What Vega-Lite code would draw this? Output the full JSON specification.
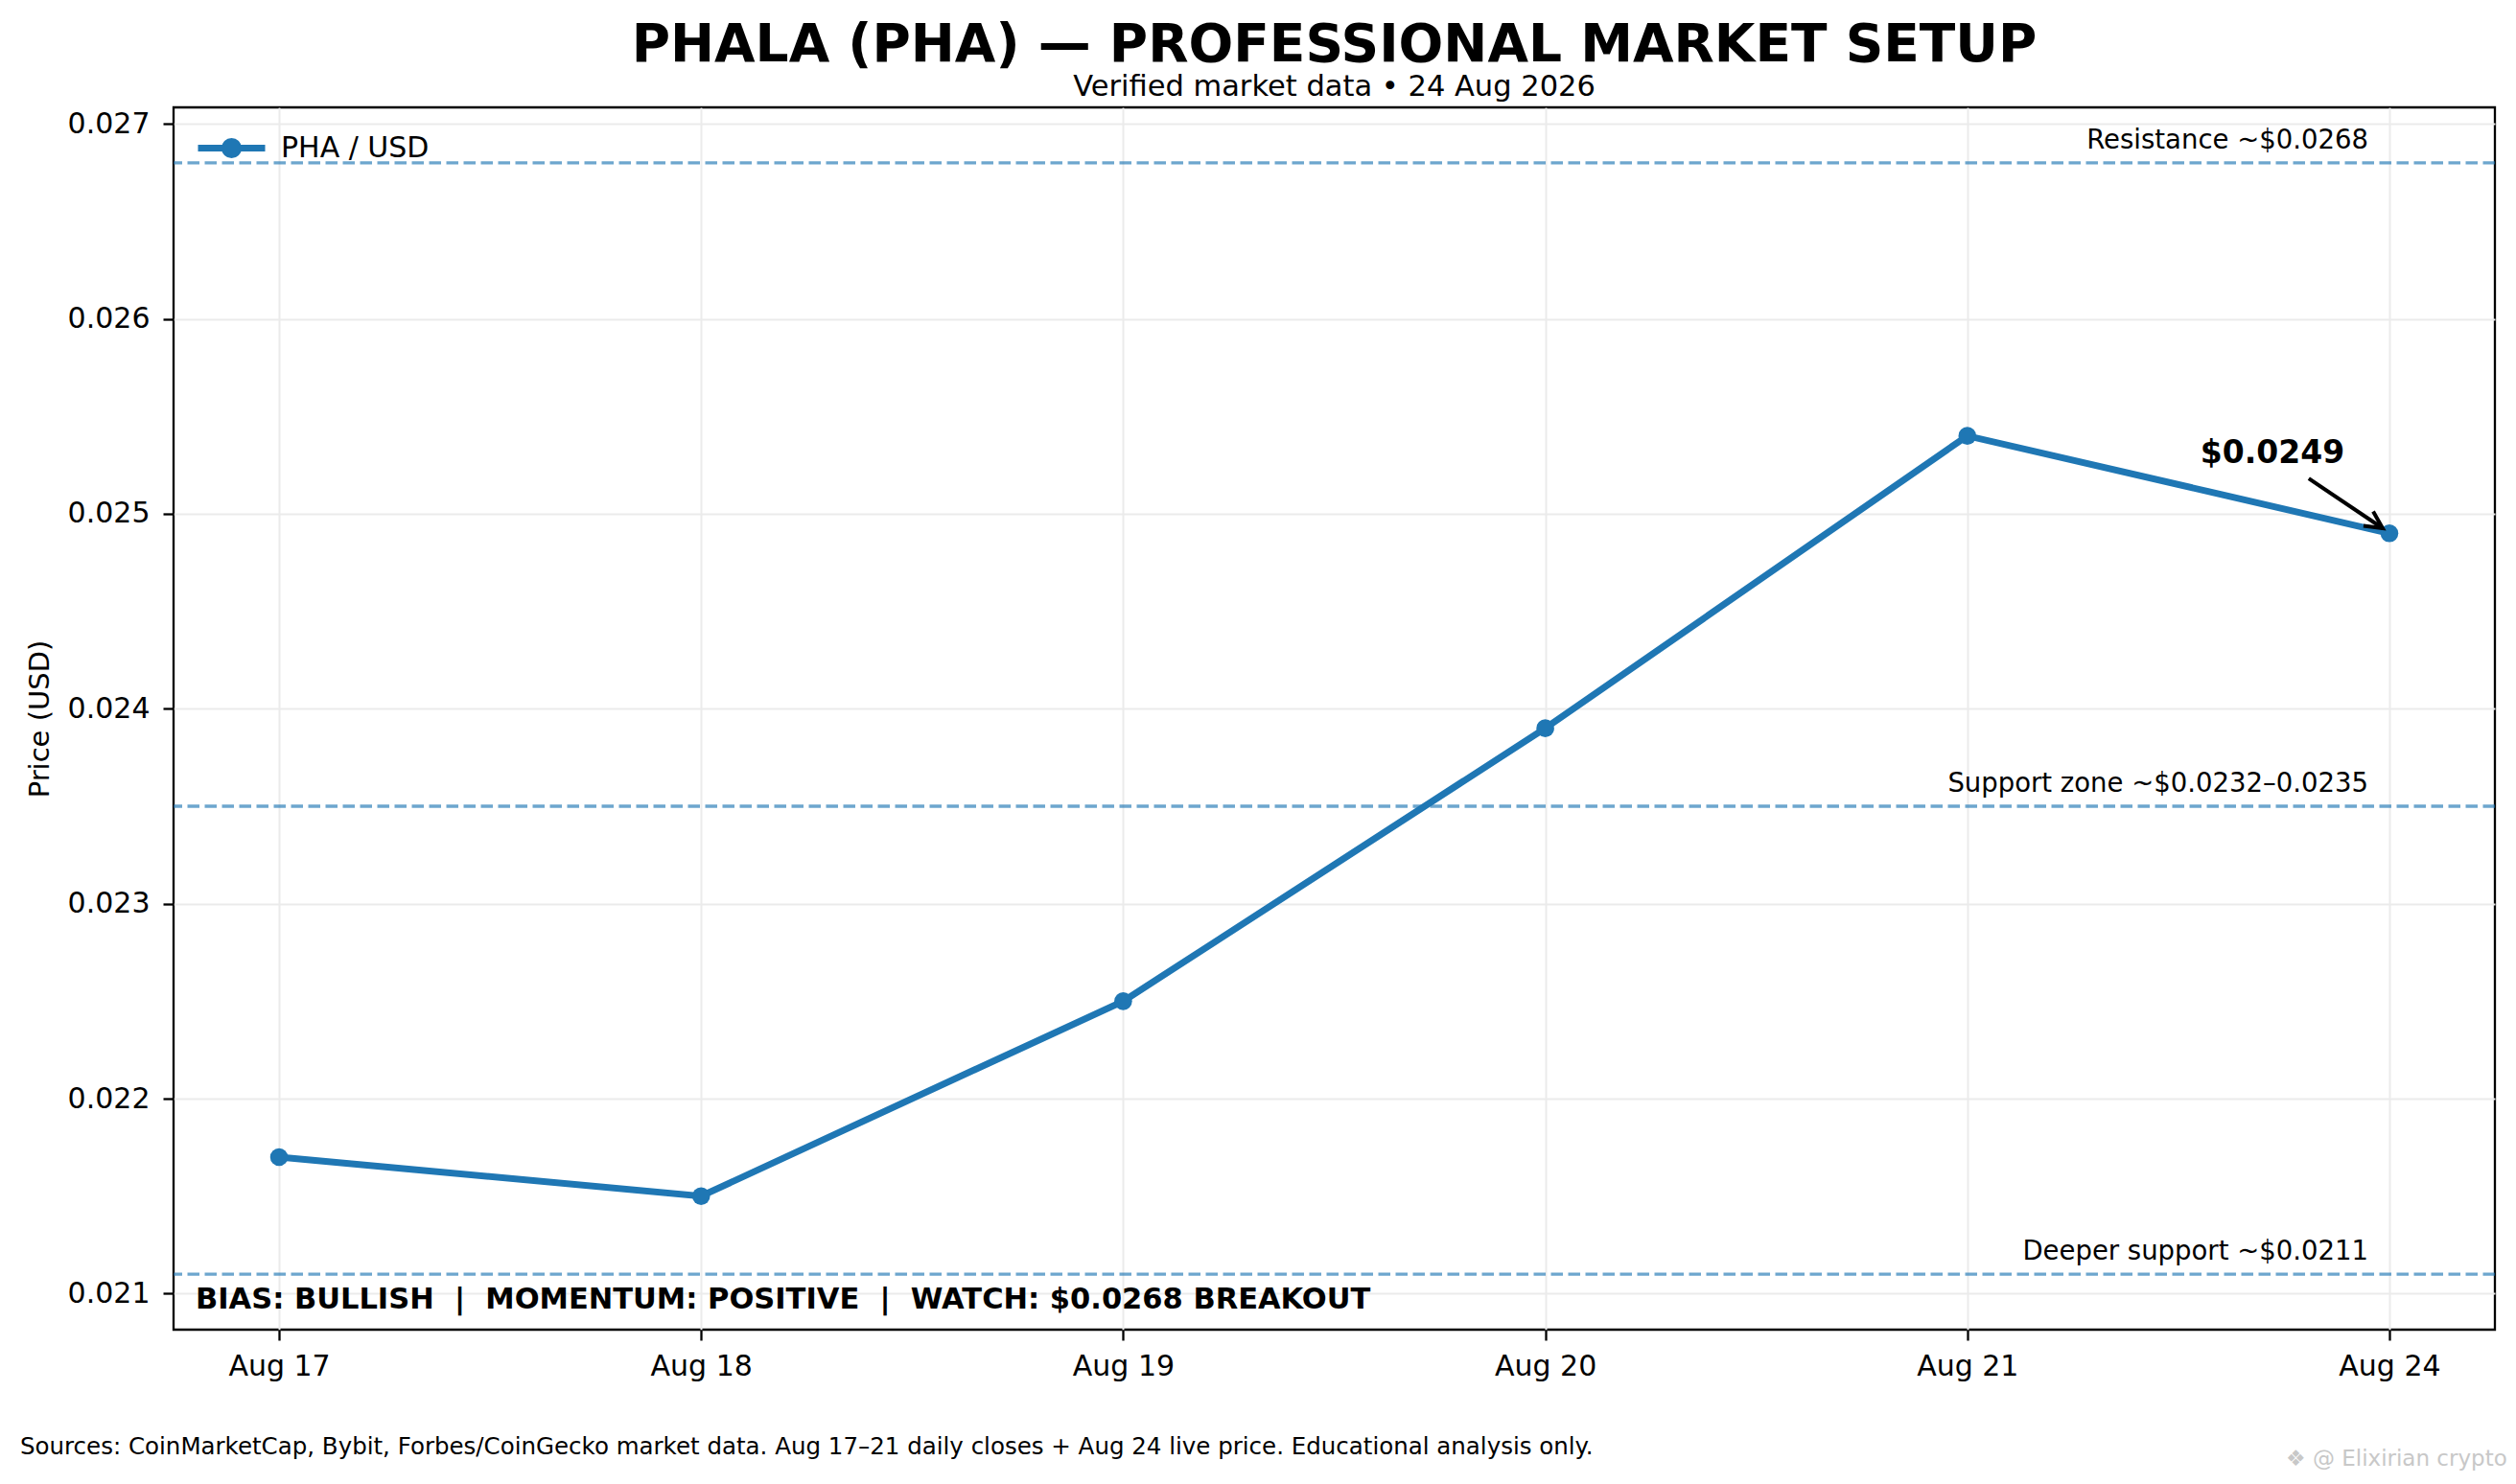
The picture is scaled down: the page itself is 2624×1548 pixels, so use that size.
{
  "$schema": "https://vega.github.io/schema/vega-lite/v6.json",
  "autosize": {"type": "none"},
  "width": 2421,
  "height": 1275,
  "padding": {"left": 181, "top": 112, "right": 22, "bottom": 161},
  "background": "white",
  "title": {
    "text": "PHALA (PHA) — PROFESSIONAL MARKET SETUP",
    "subtitle": "Verified market data • 24 Aug 2026",
    "anchor": "middle",
    "fontSize": 55,
    "fontWeight": "bold",
    "color": "black",
    "subtitleFontSize": 30.5,
    "subtitleColor": "black",
    "subtitlePadding": 0,
    "offset": 5
  },
  "datasets": {
    "prices": [
      {"i": 0, "date": "Aug 17", "price": 0.0217, "series": "PHA / USD"},
      {"i": 1, "date": "Aug 18", "price": 0.0215, "series": "PHA / USD"},
      {"i": 2, "date": "Aug 19", "price": 0.0225, "series": "PHA / USD"},
      {"i": 3, "date": "Aug 20", "price": 0.0239, "series": "PHA / USD"},
      {"i": 4, "date": "Aug 21", "price": 0.0254, "series": "PHA / USD"},
      {"i": 5, "date": "Aug 24", "price": 0.0249, "series": "PHA / USD"}
    ],
    "levels": [
      {"level": 0.0268, "label": "Resistance ~$0.0268"},
      {"level": 0.0235, "label": "Support zone ~$0.0232–0.0235"},
      {"level": 0.0211, "label": "Deeper support ~$0.0211"}
    ],
    "one": [{}]
  },
  "layer": [
    {
      "data": {"name": "levels"},
      "mark": {"type": "rule", "color": "#1f77b4", "opacity": 0.65, "strokeWidth": 3.3, "strokeDash": [12.5, 5.5]},
      "encoding": {
        "y": {"field": "level", "type": "quantitative"}
      }
    },
    {
      "data": {"name": "levels"},
      "mark": {"type": "text", "align": "right", "baseline": "alphabetic", "dy": -15, "fontSize": 27.5, "color": "black"},
      "encoding": {
        "x": {"datum": 4.95, "type": "quantitative"},
        "y": {"field": "level", "type": "quantitative"},
        "text": {"field": "label"}
      }
    },
    {
      "data": {"name": "prices"},
      "mark": {"type": "line", "strokeWidth": 7, "point": {"filled": true, "size": 346, "opacity": 1}},
      "encoding": {
        "x": {
          "field": "i",
          "type": "quantitative",
          "scale": {"domain": [-0.25, 5.25], "nice": false, "zero": false},
          "axis": {
            "title": null,
            "values": [0, 1, 2, 3, 4, 5],
            "labelExpr": "['Aug 17', 'Aug 18', 'Aug 19', 'Aug 20', 'Aug 21', 'Aug 24'][datum.value]",
            "labelPadding": 12
          }
        },
        "y": {
          "field": "price",
          "type": "quantitative",
          "scale": {"domain": [0.020815, 0.027085], "nice": false, "zero": false},
          "axis": {
            "title": "Price (USD)",
            "values": [0.021, 0.022, 0.023, 0.024, 0.025, 0.026, 0.027],
            "format": ".3f",
            "labelPadding": 14,
            "titlePadding": 14
          }
        },
        "color": {
          "field": "series",
          "type": "nominal",
          "scale": {"range": ["#1f77b4"]},
          "legend": {
            "title": null,
            "orient": "none",
            "legendX": 22,
            "legendY": 4,
            "padding": 0,
            "symbolType": "M-1,0L1,0M-0.2,0A0.2,0.2,0,1,0,0.2,0A0.2,0.2,0,1,0,-0.2,0Z",
            "symbolSize": 4900,
            "symbolStrokeWidth": 7,
            "symbolFillColor": "#1f77b4",
            "symbolStrokeColor": "#1f77b4",
            "symbolOpacity": 1,
            "labelFontSize": 30,
            "labelOffset": 13,
            "labelColor": "black"
          }
        }
      }
    },
    {
      "data": {"name": "one"},
      "mark": {"type": "rule", "color": "black", "strokeWidth": 4},
      "encoding": {
        "x": {"datum": 4.809, "type": "quantitative"},
        "y": {"datum": 0.025181, "type": "quantitative"},
        "x2": {"datum": 4.984},
        "y2": {"datum": 0.024926}
      }
    },
    {
      "data": {"name": "one"},
      "mark": {"type": "point", "shape": "M-1,-0.5L0,0L-1,0.5", "size": 1296, "angle": 34, "filled": false, "stroke": "black", "strokeWidth": 4, "opacity": 1},
      "encoding": {
        "x": {"datum": 4.984, "type": "quantitative"},
        "y": {"datum": 0.024926, "type": "quantitative"}
      }
    },
    {
      "data": {"name": "one"},
      "mark": {"type": "text", "text": "$0.0249", "align": "center", "baseline": "alphabetic", "fontSize": 33, "fontWeight": "bold", "color": "black"},
      "encoding": {
        "x": {"datum": 4.723, "type": "quantitative"},
        "y": {"datum": 0.02526, "type": "quantitative"}
      }
    },
    {
      "data": {"name": "one"},
      "mark": {"type": "text", "text": "BIAS: BULLISH\u00a0\u00a0|\u00a0\u00a0MOMENTUM: POSITIVE\u00a0\u00a0|\u00a0\u00a0WATCH: $0.0268 BREAKOUT", "align": "left", "baseline": "alphabetic", "fontSize": 30.5, "fontWeight": "bold", "color": "black"},
      "encoding": {
        "x": {"datum": -0.1978, "type": "quantitative"},
        "y": {"datum": 0.020922, "type": "quantitative"}
      }
    },
    {
      "data": {"name": "one"},
      "mark": {"type": "text", "text": "Sources: CoinMarketCap, Bybit, Forbes/CoinGecko market data. Aug 17–21 daily closes + Aug 24 live price. Educational analysis only.", "align": "left", "baseline": "alphabetic", "fontSize": 24.5, "color": "black", "clip": false},
      "encoding": {
        "x": {"datum": -0.6135, "type": "quantitative"},
        "y": {"datum": 0.020176, "type": "quantitative"}
      }
    },
    {
      "data": {"name": "one"},
      "mark": {"type": "text", "text": "❖ @ Elixirian crypto", "align": "right", "baseline": "alphabetic", "fontSize": 23, "color": "#c8c8c8", "clip": false},
      "encoding": {
        "x": {"datum": 5.279, "type": "quantitative"},
        "y": {"datum": 0.020117, "type": "quantitative"}
      }
    }
  ],
  "config": {
    "font": "DejaVu Sans",
    "view": {"stroke": "black", "strokeWidth": 2.3},
    "axis": {
      "domain": false,
      "grid": true,
      "gridColor": "#ebebeb",
      "gridWidth": 2,
      "tickColor": "black",
      "tickSize": 11,
      "tickWidth": 2.3,
      "labelFontSize": 30,
      "labelColor": "black",
      "labelFont": "DejaVu Sans",
      "titleFontSize": 29,
      "titleFontWeight": "normal",
      "titleColor": "black",
      "titleFont": "DejaVu Sans"
    },
    "legend": {"labelFont": "DejaVu Sans"},
    "title": {"font": "DejaVu Sans", "subtitleFont": "DejaVu Sans"}
  }
}
